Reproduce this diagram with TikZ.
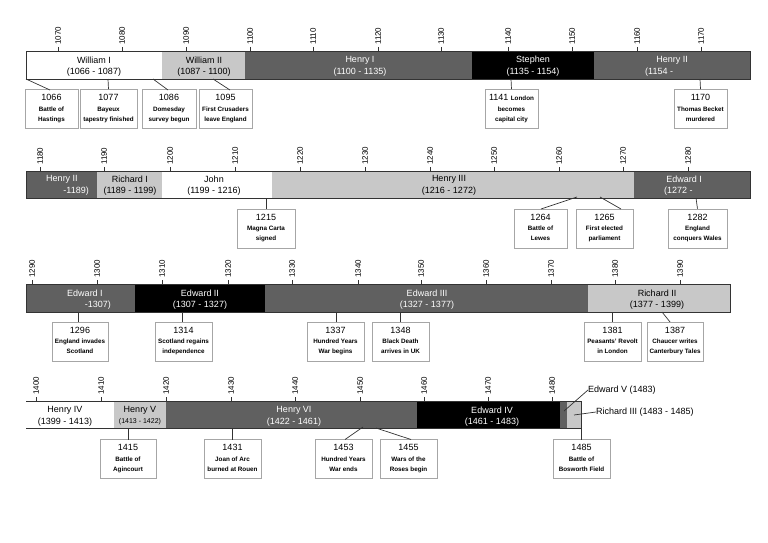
\documentclass[tikz,border=0pt]{standalone}
\usepackage{fontspec}
\setmainfont{Liberation Sans}
\definecolor{dk}{HTML}{606060}
\definecolor{lt}{HTML}{C8C8C8}
\definecolor{ln}{HTML}{333333}
\newcommand{\evd}[1]{\bfseries\fontsize{6.3}{7.6}\selectfont #1}
\newcommand{\evb}[3]{\renewcommand{\arraystretch}{0.85}\begin{tabular}{@{}c@{}}\fontsize{9}{10}\selectfont #1\\ \evd{#2}\\ \evd{#3}\end{tabular}}
\begin{document}
\begin{tikzpicture}[x=1pt,y=-1pt,
  evbox/.style={draw=gray!70,fill=white,line width=0.6pt,minimum width=#1,minimum height=39,inner sep=1pt},
  evbox/.default=57,
  conn/.style={draw=ln,line width=0.7pt},
  yr/.style={rotate=90,anchor=west,font=\fontsize{8}{8}\selectfont,inner sep=0pt},
  kw/.style={font=\fontsize{9}{9}\selectfont,inner sep=0pt,text=white},
  kb/.style={font=\fontsize{9}{9}\selectfont,inner sep=0pt,text=black},
  barout/.style={draw=ln,line width=0.8pt}]
\useasboundingbox (0,0) rectangle (768,543);
% ---------- Row 1
\fill[white] (26,51) rectangle (162,79);
\fill[lt] (162,51) rectangle (245,79);
\fill[dk] (245,51) rectangle (472,79);
\fill[black] (472,51) rectangle (594,79);
\fill[dk] (594,51) rectangle (750,79);
\draw[barout] (26,51) rectangle (750,79);
\foreach \x/\t in {58/1070,122/1080,186/1090,250/1100,313/1110,378/1120,441/1130,508/1140,572/1150,637/1160,701/1170}{
  \draw[ln] (\x,47) -- (\x,51);
  \node[yr] at (\x,45) {\t};}
\node[kb] (k1a) at (94,60) {William I}; \node[kb] (k1b) at (94,72) {(1066 - 1087)};
\node[kb] (k2a) at (204,60) {William II}; \node[kb] (k2b) at (204,72) {(1087 - 1100)};
\node[kw] (k3a) at (360,60) {Henry I}; \node[kw] (k3b) at (360,72) {(1100 - 1135)};
\node[kw] (k4a) at (533,60) {Stephen}; \node[kw] (k4b) at (533,72) {(1135 - 1154)};
\node[kw] (k5a) at (672,60) {Henry II}; \node[kw,anchor=west] (k5b) at (645,72) {(1154 -};
\node[evbox=53] (b1066) at (51.5,109) {\evb{1066}{Battle of}{Hastings}};
\node[evbox] (b1077) at (108.5,109) {\evb{1077}{Bayeux}{tapestry finished}};
\node[evbox=54] (b1086) at (169,109) {\evb{1086}{Domesday}{survey begun}};
\node[evbox=53] (b1095) at (225.5,109) {\evb{1095}{First Crusaders}{leave England}};
\node[evbox=53] (b1141) at (511.5,109) {\evb{1141 {\evd{London}}}{becomes}{capital city}};
\node[evbox=53] (b1170) at (700.5,109) {\evb{1170}{Thomas Becket}{murdered}};
\coordinate (c1066) at (26,79); \coordinate (c1077) at (108,79);
\coordinate (c1086) at (153,79); \coordinate (c1095) at (213,79);
\coordinate (c1141) at (511,79); \coordinate (c1170) at (700,79);
\draw[conn] (c1066) -- (50,90);
\draw[conn] (c1077) -- (b1077.north);
\draw[conn] (c1086) -- (168,90);
\draw[conn] (c1095) -- (230,90);
\draw[conn] (c1141) -- (b1141.north);
\draw[conn] (c1170) -- (b1170.north);
% ---------- Row 2
\fill[dk] (26,171) rectangle (97,198);
\fill[lt] (97,171) rectangle (162,198);
\fill[white] (162,171) rectangle (272,198);
\fill[lt] (272,171) rectangle (634,198);
\fill[dk] (634,171) rectangle (750,198);
\draw[barout] (26,171) rectangle (750,198);
\foreach \x/\t in {40/1180,104/1190,170/1200,235/1210,300/1220,365/1230,430/1240,494/1250,559/1260,623/1270,688/1280}{
  \draw[ln] (\x,167) -- (\x,171);
  \node[yr] at (\x,165) {\t};}
\node[kw] (m1a) at (62,179) {Henry II}; \node[kw,anchor=east] (m1b) at (89,191) {-1189)};
\node[kb] (m2a) at (130,179) {Richard I}; \node[kb] (m2b) at (130,191) {(1189 - 1199)};
\node[kb] (m3a) at (214,179) {John}; \node[kb] (m3b) at (214,191) {(1199 - 1216)};
\node[kb] (m4a) at (449,179) {Henry III}; \node[kb] (m4b) at (449,191) {(1216 - 1272)};
\node[kw] (m5a) at (684,179) {Edward I}; \node[kw,anchor=west] (m5b) at (664,191) {(1272 -};
\node[evbox=58] (b1215) at (266,228.5) {\evb{1215}{Magna Carta}{signed}};
\node[evbox=53] (b1264) at (540.5,228.5) {\evb{1264}{Battle of}{Lewes}};
\node[evbox] (b1265) at (604.5,228.5) {\evb{1265}{First elected}{parliament}};
\node[evbox=59] (b1282) at (697.5,228.5) {\evb{1282}{England}{conquers Wales}};
\coordinate (c1215) at (266,198); \coordinate (c1264) at (577,197);
\coordinate (c1265) at (600,197); \coordinate (c1282) at (696,198);
\draw[conn] (c1215) -- (b1215.north);
\draw[conn] (c1264) -- (541,209);
\draw[conn] (c1265) -- (621,209);
\draw[conn] (c1282) -- (b1282.north);
% ---------- Row 3
\fill[dk] (26,284) rectangle (135,312);
\fill[black] (135,284) rectangle (265,312);
\fill[dk] (265,284) rectangle (588,312);
\fill[lt] (588,284) rectangle (730,312);
\draw[barout] (26,284) rectangle (730,312);
\foreach \x/\t in {32/1290,97/1300,162/1310,228/1320,292/1330,358/1340,421/1350,486/1360,551/1370,615/1380,680/1390}{
  \draw[ln] (\x,280) -- (\x,284);
  \node[yr] at (\x,278) {\t};}
\node[kw] (n1a) at (85,293) {Edward I}; \node[kw,anchor=east] (n1b) at (111,305) {-1307)};
\node[kw] (n2a) at (200,293) {Edward II}; \node[kw] (n2b) at (200,305) {(1307 - 1327)};
\node[kw] (n3a) at (427,293) {Edward III}; \node[kw] (n3b) at (427,305) {(1327 - 1377)};
\node[kb] (n4a) at (657,293) {Richard II}; \node[kb] (n4b) at (657,305) {(1377 - 1399)};
\node[evbox=56] (b1296) at (80,341.5) {\evb{1296}{England invades}{Scotland}};
\node[evbox] (b1314) at (183.5,341.5) {\evb{1314}{Scotland regains}{independence}};
\node[evbox] (b1337) at (335.5,341.5) {\evb{1337}{Hundred Years}{War begins}};
\node[evbox] (b1348) at (400.5,341.5) {\evb{1348}{Black Death}{arrives in UK}};
\node[evbox] (b1381) at (612.5,341.5) {\evb{1381}{Peasants' Revolt}{in London}};
\node[evbox=56] (b1387) at (675,341.5) {\evb{1387}{Chaucer writes}{Canterbury Tales}};
\coordinate (c1296) at (78,312); \coordinate (c1314) at (182,312);
\coordinate (c1337) at (336,312); \coordinate (c1348) at (400,312);
\coordinate (c1381) at (612,312); \coordinate (c1387) at (662,312);
\draw[conn] (c1296) -- (78,322);
\draw[conn] (c1314) -- (182,322);
\draw[conn] (c1337) -- (336,322);
\draw[conn] (c1348) -- (400,322);
\draw[conn] (c1381) -- (612,322);
\draw[conn] (c1387) -- (670,322);
% ---------- Row 4
\fill[white] (26,401) rectangle (114,428);
\fill[lt] (114,401) rectangle (166,428);
\fill[dk] (166,401) rectangle (417,428);
\fill[black] (417,401) rectangle (560,428);
\fill[dk] (560,401) rectangle (567,428);
\fill[lt] (567,401) rectangle (581,428);
\draw[barout] (26,401) -- (581,401) -- (581,428) -- (26,428);
\foreach \x/\t in {36/1400,101/1410,166/1420,231/1430,295/1440,360/1450,424/1460,488/1470,552/1480}{
  \draw[ln] (\x,397) -- (\x,401);
  \node[yr] at (\x,395) {\t};}
\node[kb] (p1a) at (65,410) {Henry IV}; \node[kb] (p1b) at (65,422) {(1399 - 1413)};
\node[kb] (p2a) at (140,410) {Henry V}; \node[kb,font=\fontsize{7}{7}\selectfont] (p2b) at (140,422) {(1413 - 1422)};
\node[kw] (p3a) at (294,410) {Henry VI}; \node[kw] (p3b) at (294,422) {(1422 - 1461)};
\node[kw] (p4a) at (492,410) {Edward IV}; \node[kw] (p4b) at (492,422) {(1461 - 1483)};
\node[kb,anchor=west] (p5) at (588,390) {Edward V (1483)};
\node[kb,anchor=west] (p6) at (596,412) {Richard III (1483 - 1485)};
\coordinate (c5) at (564,411); \coordinate (c6) at (574,415);
\draw[conn] (c5) -- (p5.west);
\draw[conn] (c6) -- (p6.west);
\node[evbox=56] (b1415) at (128,459) {\evb{1415}{Battle of}{Agincourt}};
\node[evbox] (b1431) at (232.5,459) {\evb{1431}{Joan of Arc}{burned at Rouen}};
\node[evbox] (b1453) at (343.5,459) {\evb{1453}{Hundred Years}{War ends}};
\node[evbox] (b1455) at (408.5,459) {\evb{1455}{Wars of the}{Roses begin}};
\node[evbox] (b1485) at (581.5,459) {\evb{1485}{Battle of}{Bosworth Field}};
\coordinate (c1415) at (128,428); \coordinate (c1431) at (232,428);
\coordinate (c1453) at (363,427); \coordinate (c1455) at (376,428);
\coordinate (c1485) at (581,428);
\draw[conn] (c1415) -- (128,439.5);
\draw[conn] (c1431) -- (232,439.5);
\draw[conn] (c1453) -- (345,439.5);
\draw[conn] (c1455) -- (411,439.5);
\draw[conn] (c1485) -- (581,439.5);
\end{tikzpicture}
\end{document}
